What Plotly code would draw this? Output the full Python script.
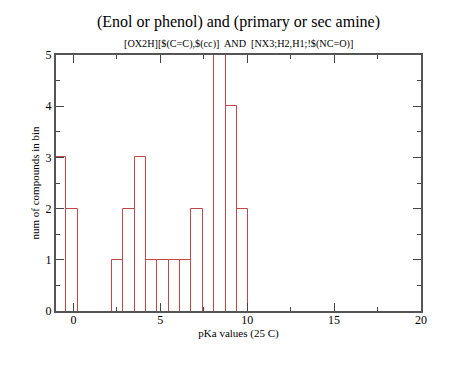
import plotly.graph_objects as go

# Data
bin_start = -1.054
bin_width = 0.654
counts = [3, 2, 0, 0, 0, 1, 2, 3, 1, 1, 1, 1, 2, 0, 5, 4, 2]

title_text = "(Enol or phenol) and (primary or sec amine)"
subtitle_text = "[OX2H][$(C=C),$(cc)]  AND  [NX3;H2,H1;!$(NC=O)]"
x_label = "pKa values (25 C)"
y_label = "num of compounds in bin"
x_ticks = [0, 5, 10, 15, 20]
y_ticks = [0, 1, 2, 3, 4, 5]

# hide the bars' bottom strokes just below the x axis line (styling only)
base_offset = 0.025

centers = [bin_start + bin_width * (i + 0.5) for i in range(len(counts))]
heights = [c + base_offset if c > 0 else None for c in counts]

W, H = 474, 366
ML, MR, MT, MB = 56, 53, 55, 55

fig = go.Figure()
fig.add_trace(go.Bar(
    x=centers, y=heights, base=-base_offset, width=[bin_width] * len(counts),
    marker=dict(color="rgba(255,255,255,0)", line=dict(color="#c04848", width=1)),
    showlegend=False, hoverinfo="skip",
))

font = "Liberation Serif, serif"
fig.update_layout(
    width=W, height=H,
    paper_bgcolor="white", plot_bgcolor="white",
    margin=dict(l=ML, r=MR, t=MT, b=MB),
    bargap=0,
    font=dict(family=font, color="black"),
)
plot_h = H - MT - MB
def py(pixel_y):
    return (H - MB - pixel_y) / plot_h

fig.add_annotation(text=title_text, x=0.5, xref="paper", y=py(22), yref="paper",
                   showarrow=False, font=dict(size=16, family=font), yanchor="middle")
fig.add_annotation(text=subtitle_text, x=0.5, xref="paper", y=py(44), yref="paper",
                   showarrow=False, font=dict(size=10.2, family=font), yanchor="middle")

axis_common = dict(
    showline=True, linecolor="#555555", linewidth=2, mirror="ticks",
    ticks="inside", ticklen=8, tickcolor="#444444", tickwidth=1,
    showgrid=False, zeroline=False, layer="above traces",
    tickfont=dict(size=12, family=font, color="black"),
)
fig.update_xaxes(
    range=[-1, 20], tickvals=x_ticks, ticklabelstandoff=-3,
    minor=dict(dtick=2.5, ticks="inside", ticklen=4, tickcolor="#444444"),
    title=dict(text=x_label, font=dict(size=11, family=font), standoff=0),
    **axis_common,
)
fig.update_yaxes(
    range=[0, 5], tickvals=y_ticks,
    minor=dict(dtick=0.5, ticks="inside", ticklen=4, tickcolor="#444444"),
    title=dict(text=y_label, font=dict(size=11, family=font), standoff=4),
    **axis_common,
)

fig.write_html("out.html", config={"displayModeBar": False},
               post_script="document.body.style.margin='0';")
